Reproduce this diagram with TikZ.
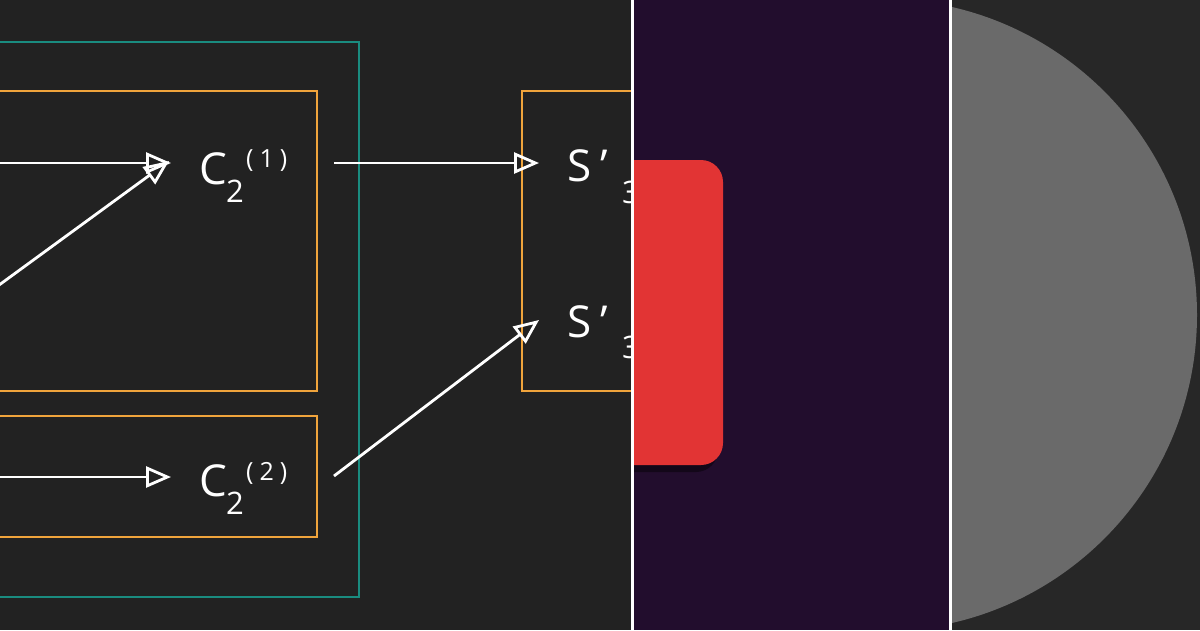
\documentclass[tikz,border=0pt]{standalone}
\usepackage{fontspec}
\setmainfont{Open Sans}
\usetikzlibrary{arrows.meta}
\definecolor{leftbg}{HTML}{222222}
\definecolor{midbg}{HTML}{220D2D}
\definecolor{rightbg}{HTML}{272727}
\definecolor{teal}{HTML}{1A8C80}
\definecolor{orng}{HTML}{F0A43C}
\definecolor{redbox}{HTML}{E23434}
\definecolor{circ}{HTML}{6A6A6A}
\tikzset{
  tealbox/.style={draw=teal,line width=2.4pt},
  orbox/.style={draw=orng,line width=2.4pt},
  conn/.style={draw=white,line width=2.8pt,-{Triangle[open,length=25pt,width=21pt,line width=2.8pt]}},
  big/.style={text=white,inner sep=0pt,anchor=base west,font=\fontsize{44}{50}\selectfont},
  sub/.style={text=white,inner sep=0pt,anchor=base west,font=\fontsize{31}{36}\selectfont},
  sup/.style={text=white,inner sep=0pt,anchor=base west,font=\fontsize{25}{28}\selectfont},
}
\begin{document}
\begin{tikzpicture}[x=1pt,y=-1pt]
\useasboundingbox (0,0) rectangle (1200,630);
% panels
\fill[leftbg] (0,0) rectangle (632,630);
\fill[midbg] (632,0) rectangle (950,630);
\fill[rightbg] (950,0) rectangle (1200,630);
% left diagram
\draw[tealbox] (-10,42) rectangle (359,597);
\draw[orbox] (-10,91) rectangle (317,391);
\draw[orbox] (-10,416) rectangle (317,537);
\draw[orbox] (522,91) rectangle (650,391);
% texts
\node[big] (c1) at (199,184) {C};
\node[sub] (c1sub) at (226,202) {2};
\node[sup] (c1sup) at (246,167) {(\kern6pt1\kern6pt)};
\node[big] (c2) at (199,496) {C};
\node[sub] (c2sub) at (226,514) {2};
\node[sup] (c2sup) at (246,480) {(\kern6pt2\kern6pt)};
\node[big] (s1) at (567,181) {S};
\node[big] (s1p) at (600,181) {’};
\node[sub] (s1sub) at (622,203) {3};
\node[big] (s2) at (567,337) {S};
\node[big] (s2p) at (600,337) {’};
\node[sub] (s2sub) at (622,358) {3};
% connector endpoints
\coordinate (a1s) at (-5,163);
\coordinate (a1e) at (171,163);
\coordinate (a2s) at (-5,288);
\coordinate (a2e) at (169,161);
\coordinate (a3s) at (334,163);
\coordinate (a3e) at (539,163);
\coordinate (a4s) at (-5,477);
\coordinate (a4e) at (171,477);
\coordinate (a5s) at (334,476);
\coordinate (a5e) at (539,320);
\draw[conn] (a1s) -- (a1e);
\draw[conn] (a2s) -- (a2e);
\draw[conn] (a3s) -- (a3e);
\draw[conn] (a4s) -- (a4e);
\draw[conn] (a5s) -- (a5e);
% middle panel (covers overflow)
\fill[midbg] (632,0) rectangle (950,630);
\begin{scope}
\clip (632,0) rectangle (950,630);
\fill[black!45!midbg,rounded corners=22pt] (597,167) rectangle (718,472);
\fill[redbox,rounded corners=22pt] (600,160) rectangle (723,465);
\end{scope}
% right panel
\begin{scope}
\clip (950,0) rectangle (1200,630);
\fill[circ] (881,315) circle (316);
\end{scope}
% dividers
\fill[white] (630.5,0) rectangle (633.5,630);
\fill[white] (949,0) rectangle (952,630);
\end{tikzpicture}
\end{document}
